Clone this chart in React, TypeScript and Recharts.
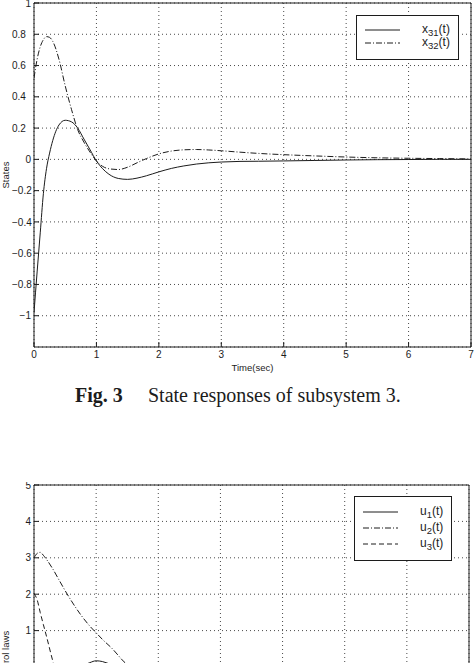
import React from 'react';
import { LineChart, Line, XAxis, YAxis, CartesianGrid, Legend } from 'recharts';

// Fig. 3 - states of subsystem 3
const timeStates = [0, 0.05, 0.1, 0.15, 0.2, 0.25, 0.3, 0.4, 0.5, 0.6, 0.7, 0.8, 0.9, 1.0, 1.1, 1.2, 1.35, 1.5, 1.65, 1.8, 2.0, 2.2, 2.4, 2.6, 2.8, 3.0, 3.3, 3.6, 4.0, 4.5, 5.0, 5.5, 6.0, 6.5, 7.0];
const x31 = [-0.98, -0.72, -0.47, -0.22, -0.06, 0.04, 0.12, 0.22, 0.25, 0.24, 0.2, 0.13, 0.06, -0.01, -0.06, -0.095, -0.122, -0.128, -0.12, -0.105, -0.08, -0.058, -0.042, -0.03, -0.022, -0.017, -0.013, -0.012, -0.01, -0.007, -0.004, -0.002, -0.001, 0, 0];
const x32 = [0.52, 0.64, 0.72, 0.765, 0.785, 0.78, 0.755, 0.64, 0.47, 0.32, 0.19, 0.11, 0.045, -0.01, -0.045, -0.06, -0.065, -0.05, -0.022, 0.005, 0.035, 0.053, 0.061, 0.063, 0.06, 0.055, 0.046, 0.038, 0.03, 0.022, 0.015, 0.01, 0.007, 0.005, 0.003];
const timeTicks = [0, 1, 2, 3, 4, 5, 6, 7];
const stateTicks = [-1, -0.8, -0.6, -0.4, -0.2, 0, 0.2, 0.4, 0.6, 0.8, 1];

// next figure - control laws (only the top part is on the page)
const timeControl = [0, 0.05, 0.1, 0.15, 0.2, 0.3, 0.4, 0.5, 0.6, 0.75, 0.9, 1.0, 1.1, 1.25, 1.45, 1.7, 2.0, 2.5, 3.0, 4.0, 5.0, 6.0, 7.0];
const u1 = [-3.4, -3.1, -2.8, -2.5, -2.2, -1.65, -1.15, -0.72, -0.38, -0.02, 0.12, 0.17, 0.15, 0.06, -0.05, -0.12, -0.12, -0.07, -0.03, -0.01, 0, 0, 0];
const u2 = [3.0, 3.12, 3.15, 3.07, 2.96, 2.7, 2.4, 2.1, 1.82, 1.44, 1.12, 0.94, 0.76, 0.52, 0.14, -0.22, -0.42, -0.45, -0.32, -0.12, -0.04, -0.01, 0];
const u3 = [2.02, 1.85, 1.5, 1.17, 0.85, 0.18, -0.4, -0.85, -1.15, -1.4, -1.45, -1.4, -1.3, -1.1, -0.85, -0.55, -0.3, -0.08, 0.02, 0.02, 0.01, 0, 0];
const controlTicks = [-5, -4, -3, -2, -1, 0, 1, 2, 3, 4, 5];

const SANS = '"Liberation Sans", Arial, Helvetica, sans-serif';
const SERIF = '"Liberation Serif", "Times New Roman", serif';
const INK = '#1c1c1c';
const GRID = '#4a4a4a';
const DASH_DOT = '6 2 1 2';
const DASHED = '5 3';

type Series = { key: string; base: string; sub: string; dash?: string };

const stateSeries: Series[] = [
  { key: 'x31', base: 'x', sub: '31' },
  { key: 'x32', base: 'x', sub: '32', dash: DASH_DOT },
];
const controlSeries: Series[] = [
  { key: 'u1', base: 'u', sub: '1' },
  { key: 'u2', base: 'u', sub: '2', dash: DASH_DOT },
  { key: 'u3', base: 'u', sub: '3', dash: DASHED },
];

const stateData = timeStates.map((t, i) => ({ t, x31: x31[i], x32: x32[i] }));
const controlData = timeControl.map((t, i) => ({ t, u1: u1[i], u2: u2[i], u3: u3[i] }));

const fmt = (v: number) => (Number.isInteger(v) ? String(v) : v.toFixed(1)).replace('-', '\u2212');

// old matlab labels: decimals sit left-aligned, integers right-aligned
function YTick({ x, y, payload }: any) {
  const s = fmt(payload.value);
  const dec = s.includes('.');
  return (
    <text x={dec ? x - 19 : x} y={y} dy="0.36em" textAnchor={dec ? 'start' : 'end'}
      fontSize={10} fontFamily={SANS} fill={INK}>{s}</text>
  );
}

const yTitle = (text: string, shift = 0) => ({ viewBox }: any) => {
  const cx = 6;
  const cy = viewBox.y + viewBox.height / 2 + shift;
  return (
    <text x={cx} y={cy} dy="0.35em" transform={`rotate(-90 ${cx} ${cy})`} textAnchor="middle"
      fontSize={9.5} fontFamily={SANS} fill={INK}>{text}</text>
  );
};

function LegendBox({ series, width, height, firstY, step }: { series: Series[]; width: number; height: number; firstY: number; step: number }) {
  return (
    <svg width={width} height={height} style={{ display: 'block' }}>
      <rect x={0.5} y={0.5} width={width - 1} height={height - 1} fill="#fff" stroke={INK} />
      {series.map((s, i) => {
        const ly = firstY + i * step;
        return (
          <g key={s.key}>
            <line x1={9} x2={44} y1={ly} y2={ly} stroke={INK} strokeDasharray={s.dash} />
            <text x={66} y={ly + 2.5} fontSize={12} fontFamily={SANS} fill={INK}>
              {s.base}<tspan fontSize={9.5} dy={3}>{s.sub}</tspan><tspan dy={-3}>(t)</tspan>
            </text>
          </g>
        );
      })}
    </svg>
  );
}

type PanelProps = {
  data: any[];
  series: Series[];
  yDomain: [number, number];
  yTicks: number[];
  yLabel: string;
  labelShift?: number;
  height: number;
  rightGap: number;
  legend: { left: number; top: number; width: number; height: number; firstY: number; step: number };
};

function Panel({ data, series, yDomain, yTicks, yLabel, labelShift = 0, height, rightGap, legend }: PanelProps) {
  return (
    <LineChart width={474} height={height} data={data} margin={{ top: 0, right: 0, bottom: 0, left: 0 }}>
      <CartesianGrid stroke={GRID} strokeDasharray="1 3" />
      <XAxis dataKey="t" type="number" domain={[0, 7]} ticks={timeTicks} interval={0} height={33}
        tickSize={-5} tickMargin={9} stroke={INK} allowDataOverflow
        tick={{ fontSize: 10, fontFamily: SANS, fill: INK }}
        label={{ value: 'Time(sec)', position: 'insideBottom', offset: 9, fontSize: 9.5, fontFamily: SANS, fill: INK }} />
      <XAxis xAxisId="top" orientation="top" type="number" domain={[0, 7]} ticks={timeTicks} interval={0}
        height={3} tickSize={-5} tick={false} stroke={INK} allowDataOverflow />
      <YAxis type="number" domain={yDomain} ticks={yTicks} interval={0} width={34} tickSize={-5} tickMargin={8}
        stroke={INK} allowDataOverflow tick={<YTick />} label={{ content: yTitle(yLabel, labelShift) }} />
      <YAxis yAxisId="right" orientation="right" type="number" domain={yDomain} ticks={yTicks} interval={0}
        width={rightGap} tickSize={-5} tick={false} stroke={INK} allowDataOverflow />
      <Legend layout="vertical" align="center" verticalAlign="middle"
        wrapperStyle={{ left: legend.left, top: legend.top, width: legend.width, height: legend.height }}
        content={() => (
          <LegendBox series={series} width={legend.width} height={legend.height} firstY={legend.firstY} step={legend.step} />
        )} />
      {series.map((s) => (
        <Line key={s.key} dataKey={s.key} type="monotone" stroke={INK} strokeWidth={1} strokeDasharray={s.dash}
          dot={false} activeDot={false} isAnimationActive={false} />
      ))}
    </LineChart>
  );
}

export default function App() {
  return (
    <div style={{ position: 'absolute', left: 0, top: 0, width: 474, height: 663, overflow: 'hidden', background: '#fff' }}>
      <div style={{ position: 'absolute', left: 0, top: 0 }}>
        <Panel data={stateData} series={stateSeries} yDomain={[-1.2, 1]} yTicks={stateTicks} yLabel="States"
          height={380} rightGap={3}
          legend={{ left: 356, top: 15, width: 103, height: 45, firstY: 15, step: 13 }} />
      </div>
      <svg width={474} height={40} style={{ position: 'absolute', left: 0, top: 380 }}>
        <text x={75} y={22} fontFamily={SERIF} fontWeight="bold" fontSize={20} fill={INK}>Fig. 3</text>
        <text x={148} y={22} fontFamily={SERIF} fontSize={20} fill={INK}>State responses of subsystem 3.</text>
      </svg>
      <div style={{ position: 'absolute', left: 0, top: 482 }}>
        <Panel data={controlData} series={controlSeries} yDomain={[-5, 5]} yTicks={controlTicks} yLabel="Control laws"
          labelShift={-10} height={400} rightGap={5}
          legend={{ left: 354, top: 14, width: 98, height: 65, firstY: 16, step: 16 }} />
      </div>
    </div>
  );
}
